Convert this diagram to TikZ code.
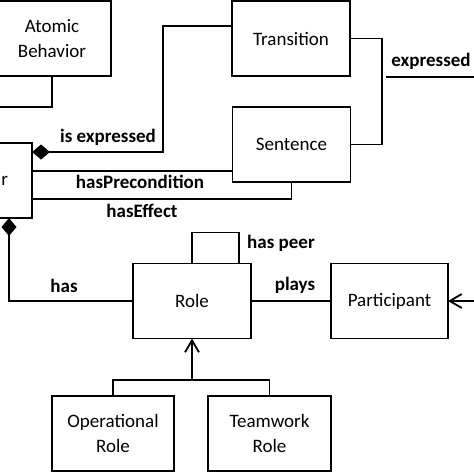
\documentclass[tikz,border=0pt]{standalone}
\usepackage{fontspec}
\setmainfont{Carlito}
\usetikzlibrary{arrows.meta}
\begin{document}
\begin{tikzpicture}[x=1pt,y=-1pt,line width=1.8pt,
  every node/.style={font=\fontsize{19}{25}\selectfont, outer sep=0pt},
  cls/.style={draw, minimum height=75pt, minimum width=118pt, align=center, inner sep=0pt},
  lbl/.style={font=\fontsize{19}{25}\selectfont\bfseries},
  comp/.style={{Diamond[length=18pt,width=15pt]}-},
  gen/.style={-{Straight Barb[length=12pt,width=14pt]}}]
\useasboundingbox (0,0) rectangle (474,474);
\clip (0,0) rectangle (474,474);

\node[cls] (atomic) at (52,38.5) {Atomic\\Behavior};
\node[cls] (transition) at (291,38.5) {Transition};
\node[cls] (sentence) at (291.5,144.5) {Sentence};
\node[cls, minimum width=0pt, text width=50pt, align=right, inner xsep=24pt] (behavior) at (-17,180.5) {r};
\node[cls] (role) at (192,301) {Role};
\node[cls, minimum width=117pt] (participant) at (389.5,301) {Participant};
\node[cls, minimum width=122pt] (operational) at (113,433.5) {Operational\\Role};
\node[cls, minimum width=123pt] (teamwork) at (269.5,433.5) {Teamwork\\Role};

\coordinate (abend) at (-10,107);
\coordinate (expr) at (386,77);
\coordinate (exprend) at (480,77);
\coordinate (pin) at (480,301);
\coordinate (genj) at (192,380);

\draw (atomic.south) |- (abend);
\draw[comp] ([yshift=28.5pt]behavior.east) -- (163,152) |- ([yshift=12.5pt]transition.west);
\draw ([yshift=9.5pt]behavior.east) -- ([yshift=-26.5pt]sentence.west);
\draw ([yshift=-18.5pt]behavior.east) -| (sentence.south);
\draw (transition.east) -- ++(32,0) |- (sentence.east);
\draw (expr) -- (exprend);
\draw[comp] ([xshift=-23pt]behavior.south east) |- (role.west);
\draw (role.north) -- ++(0,-31) -| ([xshift=47pt]role.north);
\draw (role.east) -- (participant.west);
\draw[gen] (pin) -- (participant.east);
\draw[gen] (genj) -- (role.south);
\draw (operational.north) |- (genj) -| (teamwork.north);

\node[lbl] (isexpressed) at (108,137) {is expressed};
\node[lbl] (hasprecondition) at (140,182) {hasPrecondition};
\node[lbl] (haseffect) at (142,211) {hasEffect};
\node[lbl] (has) at (64,286) {has};
\node[lbl] (haspeer) at (281,243) {has peer};
\node[lbl] (plays) at (295,285) {plays};
\node[lbl, anchor=east] (expressed) at (474,61) {expressed};
\end{tikzpicture}
\end{document}
